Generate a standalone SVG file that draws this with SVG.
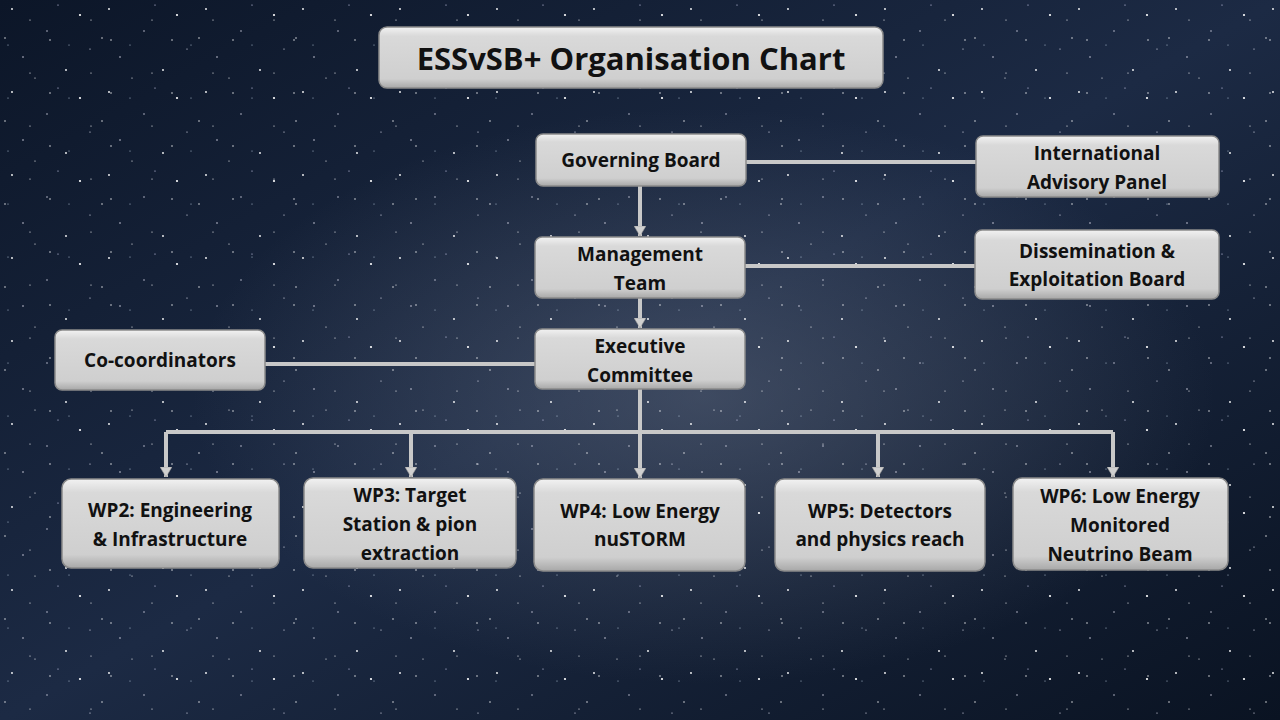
<svg xmlns="http://www.w3.org/2000/svg" width="1280" height="720" viewBox="0 0 1280 720">
<defs>
<linearGradient id="bg" x1="0" y1="0" x2="1" y2="1"><stop offset="0" stop-color="#0c1628"/><stop offset="0.5" stop-color="#1c2a44"/><stop offset="1" stop-color="#0a1322"/></linearGradient>
<radialGradient id="mw" cx="0.55" cy="0.55" r="0.4"><stop offset="0" stop-color="#6a7488" stop-opacity="0.45"/><stop offset="1" stop-color="#6a7488" stop-opacity="0"/></radialGradient>
<pattern id="stars" width="97" height="83" patternUnits="userSpaceOnUse">
<circle cx="12" cy="9" r="0.9" fill="#fff"/><circle cx="47" cy="31" r="0.7" fill="#dde"/><circle cx="80" cy="15" r="1.1" fill="#fff"/><circle cx="23" cy="57" r="0.8" fill="#ccd"/><circle cx="66" cy="70" r="0.9" fill="#fff"/><circle cx="90" cy="49" r="0.6" fill="#eef"/><circle cx="35" cy="78" r="0.6" fill="#fff"/><circle cx="5" cy="38" r="0.7" fill="#fff"/><circle cx="58" cy="5" r="0.6" fill="#ddf"/>
</pattern>
<pattern id="stars2" width="61" height="53" patternUnits="userSpaceOnUse">
<circle cx="30" cy="20" r="0.6" fill="#fff"/><circle cx="8" cy="45" r="0.5" fill="#cde"/><circle cx="50" cy="40" r="0.7" fill="#fff"/>
</pattern>
<linearGradient id="box" x1="0" y1="0" x2="0" y2="1"><stop offset="0" stop-color="#f2f2f2"/><stop offset="0.15" stop-color="#d9d9d9"/><stop offset="0.85" stop-color="#cfcfcf"/><stop offset="1" stop-color="#a8a8a8"/></linearGradient>
<marker id="ah" markerWidth="10" markerHeight="12" refX="10" refY="6" orient="auto" markerUnits="userSpaceOnUse" viewBox="0 0 10 12"><path d="M0,0 L10,6 L0,12 z" fill="#d0d0d0" stroke="#999" stroke-width="0.6"/></marker>
</defs>
<style>
.b{fill:url(#box);stroke:#8a8a8a;stroke-width:1.5}
.t{font-family:"Open Sans","Liberation Sans",sans-serif;font-weight:bold;font-size:19px;fill:#111;text-anchor:middle}
.c{stroke:#c8c8c8;stroke-width:4;fill:none}
</style>
<rect width="1280" height="720" fill="url(#bg)"/>
<rect width="1280" height="720" fill="url(#mw)"/>
<rect width="1280" height="720" fill="url(#stars)"/>
<rect width="1280" height="720" fill="url(#stars2)"/>
<g id="connectors">
<path class="c" d="M746,162 H976"/>
<path class="c" d="M745,266 H975"/>
<path class="c" d="M265,364 H535"/>
<path class="c" d="M166,432 H1113"/>
<path class="c" d="M640,186 V236" marker-end="url(#ah)"/>
<path class="c" d="M640,298 V328" marker-end="url(#ah)"/>
<path class="c" d="M640,389 V478" marker-end="url(#ah)"/>
<path class="c" d="M166,432 V477" marker-end="url(#ah)"/>
<path class="c" d="M411,432 V477" marker-end="url(#ah)"/>
<path class="c" d="M878,432 V477" marker-end="url(#ah)"/>
<path class="c" d="M1113,432 V477" marker-end="url(#ah)"/>
</g>
<g id="title"><rect class="b" x="379" y="27" width="504" height="61" rx="8"/><text class="t" x="631" y="70" style="font-size:31px">ESSvSB+ Organisation Chart</text></g>
<g id="gb"><rect class="b" x="536" y="134" width="210" height="52" rx="7"/><text class="t" x="641" y="167">Governing Board</text></g>
<g id="iap"><rect class="b" x="976" y="136" width="243" height="61" rx="7"/><text class="t" x="1097" y="160">International</text><text class="t" x="1097" y="189">Advisory Panel</text></g>
<g id="mt"><rect class="b" x="535" y="237" width="210" height="61" rx="7"/><text class="t" x="640" y="261">Management</text><text class="t" x="640" y="290">Team</text></g>
<g id="deb"><rect class="b" x="975" y="230" width="244" height="69" rx="7"/><text class="t" x="1097" y="258">Dissemination &amp;</text><text class="t" x="1097" y="286">Exploitation Board</text></g>
<g id="ec"><rect class="b" x="535" y="329" width="210" height="60" rx="7"/><text class="t" x="640" y="353">Executive</text><text class="t" x="640" y="382">Committee</text></g>
<g id="cc"><rect class="b" x="55" y="330" width="210" height="60" rx="7"/><text class="t" x="160" y="367">Co-coordinators</text></g>
<g id="wp2"><rect class="b" x="62" y="479" width="217" height="89" rx="9"/><text class="t" x="170" y="517">WP2: Engineering</text><text class="t" x="170" y="546">&amp; Infrastructure</text></g>
<g id="wp3"><rect class="b" x="304" y="478" width="212" height="90" rx="9"/><text class="t" x="410" y="502">WP3: Target</text><text class="t" x="410" y="531">Station &amp; pion</text><text class="t" x="410" y="560">extraction</text></g>
<g id="wp4"><rect class="b" x="534" y="479" width="211" height="92" rx="9"/><text class="t" x="640" y="518">WP4: Low Energy</text><text class="t" x="640" y="546">nuSTORM</text></g>
<g id="wp5"><rect class="b" x="775" y="479" width="210" height="92" rx="9"/><text class="t" x="880" y="518">WP5: Detectors</text><text class="t" x="880" y="546">and physics reach</text></g>
<g id="wp6"><rect class="b" x="1013" y="478" width="215" height="92" rx="9"/><text class="t" x="1120" y="503">WP6: Low Energy</text><text class="t" x="1120" y="532">Monitored</text><text class="t" x="1120" y="561">Neutrino Beam</text></g>
</svg>
